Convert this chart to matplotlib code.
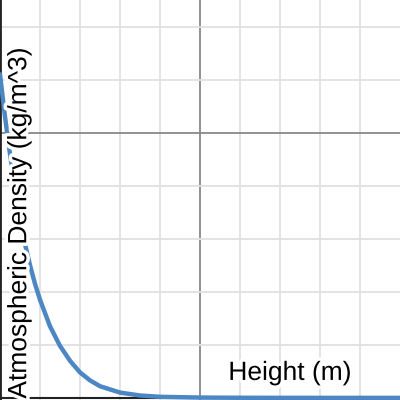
import numpy as np
import matplotlib
matplotlib.use("Agg")
from matplotlib import pyplot as plt
import matplotlib.patheffects as pe

# readings (grid units)
height = [0, 0.125, 0.25, 0.375, 0.5, 0.625, 0.75, 0.875, 1, 1.25, 1.5, 1.75,
          2, 2.25, 2.5, 3, 3.5, 4, 5, 6, 8, 10]
density = [6.1, 5.3, 4.6, 3.95, 3.4, 2.9, 2.5, 2.15, 1.85, 1.35, 0.98, 0.7,
           0.48, 0.33, 0.22, 0.1, 0.045, 0.02, 0.006, 0.002, 0.0, 0.0]

plt.rcParams['font.family'] = ['Liberation Sans', 'DejaVu Sans']

fig = plt.figure(figsize=(4, 4), dpi=100)
ax = fig.add_axes([0, 0, 1, 1])
ax.set_xlim(0, 10)
ax.set_ylim(-0.04, 7.5)

for gx in np.arange(1, 10):
    major = gx == 5
    ax.axvline(gx, color='#888888' if major else '#e0e0e0', lw=1.3, zorder=0)
for gy in np.arange(1, 8):
    major = gy == 5
    ax.axhline(gy, color='#888888' if major else '#e0e0e0', lw=1.3, zorder=0)
ax.axhline(0, color='#222222', lw=1.5, zorder=1)
ax.axvline(0, color='#222222', lw=2, zorder=1)

ax.plot(height, density, color='#4c87c4', lw=3.2, zorder=3,
        solid_capstyle='round', solid_joinstyle='round')

outline = [pe.withStroke(linewidth=5, foreground='white')]
ax.text(7.25, 0.47, "Height (m)", fontsize=19, ha='center', va='center',
        path_effects=outline, zorder=4)
ax.text(0.48, 3.3, "Atmospheric Density (kg/m^3)", fontsize=19, rotation=90,
        ha='center', va='center', path_effects=outline, zorder=4)

for s in ax.spines.values():
    s.set_visible(False)
ax.set_xticks([])
ax.set_yticks([])

fig.savefig("out.png", dpi=100)
